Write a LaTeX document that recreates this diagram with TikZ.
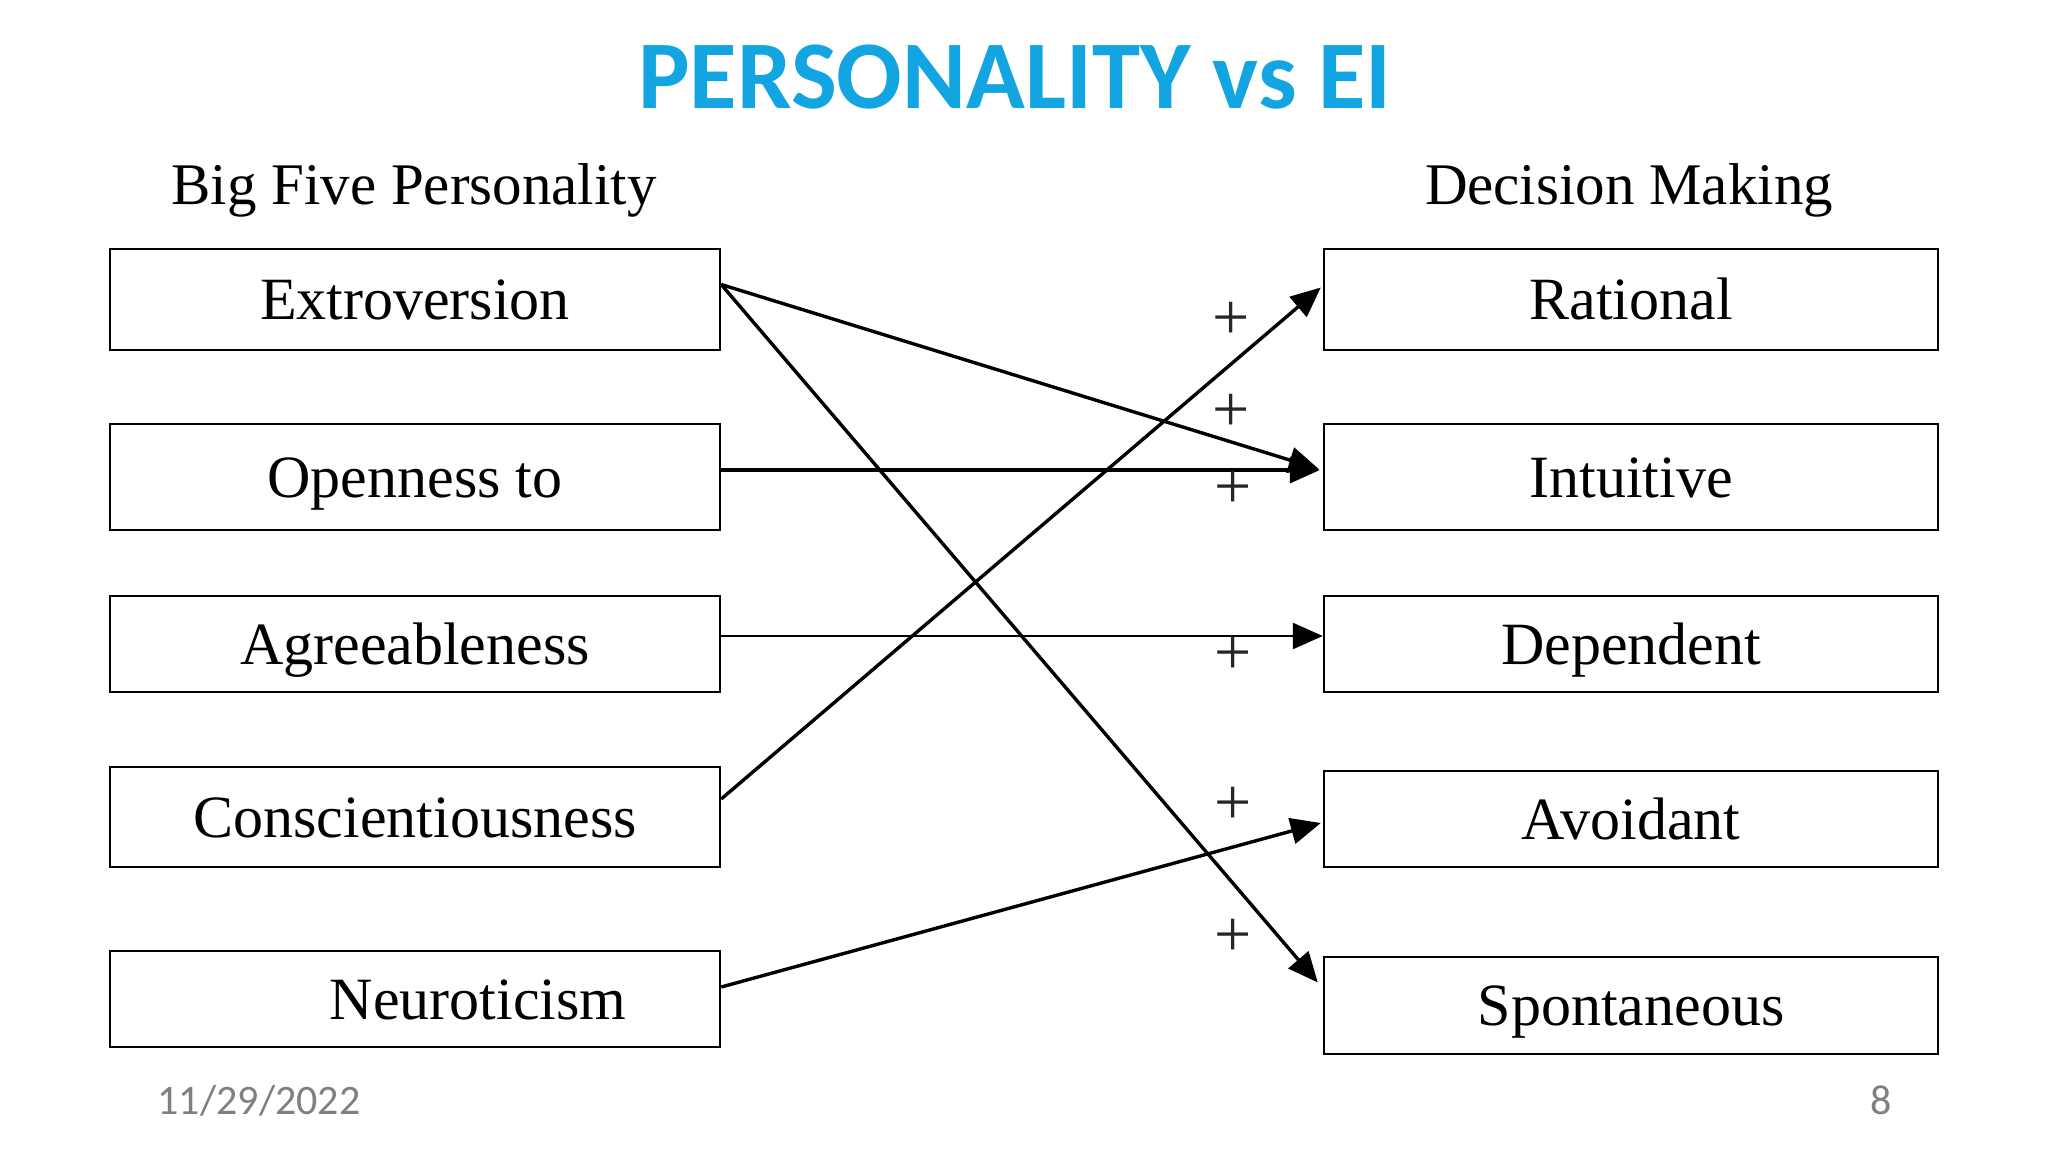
\documentclass[tikz,border=0pt]{standalone}
\usepackage{fontspec}
\setmainfont{Liberation Serif}
\newfontfamily\calibri{Carlito}
\usetikzlibrary{arrows.meta,calc}
\definecolor{titleblue}{RGB}{18,165,225}
\definecolor{footgray}{RGB}{128,128,128}
\begin{document}
\begin{tikzpicture}[x=1pt,y=-1pt,
  box/.style={draw, line width=2.4pt, inner sep=0pt, text height=40pt, text depth=0pt,
    font=\fontsize{60}{72}\selectfont},
  lbox/.style={box, minimum width=610pt},
  rbox/.style={box, minimum width=614pt},
  conn/.style={line width=3.4pt, -{Triangle[length=30pt,width=26pt]}},
  plus/.style={font=\fontsize{66}{70}\selectfont, inner sep=0pt, text=black!85},
  head/.style={font=\fontsize{59}{70}\selectfont, anchor=base, inner sep=0pt},
  foot/.style={font=\calibri\fontsize{42}{50}\selectfont, text=footgray, anchor=base, inner sep=0pt}
]
\useasboundingbox (0,0) rectangle (2048,1152);
\fill[white] (0,0) rectangle (2048,1152);

% title
\node[font=\calibri\bfseries\fontsize{97}{110}\selectfont, text=titleblue, anchor=base, inner sep=0pt]
  (title) at (1015,108) {PERSONALITY vs EI};

% headers
\node[head] (hleft) at (414,204) {Big Five Personality};
\node[head] (hright) at (1629,204) {Decision Making};

% left boxes
\node[lbox, minimum height=101pt] (ext) at (415,299.5) {Extroversion};
\node[lbox, minimum height=106pt] (ope) at (415,477) {Openness to};
\node[lbox, minimum height=96pt]  (agr) at (415,644) {Agreeableness};
\node[lbox, minimum height=100pt] (con) at (415,817) {Conscientiousness};
\node[lbox, minimum height=96pt]  (neu) at (415,999) {\hspace*{126pt}Neuroticism};

% right boxes
\node[rbox, minimum height=101pt] (rat) at (1631,299.5) {Rational};
\node[rbox, minimum height=106pt] (int) at (1631,477) {Intuitive};
\node[rbox, minimum height=96pt]  (dep) at (1631,644) {Dependent};
\node[rbox, minimum height=96pt]  (avo) at (1631,819) {Avoidant};
\node[rbox, minimum height=97pt]  (spo) at (1631,1005.5) {Spontaneous};

% connectors
\draw[conn] ([yshift=15pt]ext.east) -- ([yshift=8pt,xshift=-4pt]int.west);
\draw[conn] ([yshift=15pt]ext.east) -- ([yshift=23pt,xshift=-5pt]spo.west);
\draw[conn, line width=3.8pt] ([yshift=7pt]ope.east) -- ([yshift=7pt,xshift=-3pt]int.west);
\draw[conn, line width=2.6pt] ([yshift=8pt]agr.east) -- ([yshift=8pt]dep.west);
\draw[conn] ([yshift=18pt]con.east) -- ([yshift=12pt,xshift=-2pt]rat.west);
\draw[conn] ([yshift=12pt]neu.east) -- ([yshift=-4pt,xshift=-2pt]avo.west);

% plus signs
\node[plus] (p1) at (1231,321) {+};
\node[plus] (p2) at (1231,413) {+};
\node[plus] (p3) at (1233,490) {+};
\node[plus] (p4) at (1233,656) {+};
\node[plus] (p5) at (1233,806) {+};
\node[plus] (p6) at (1233,938) {+};

% footer
\node[foot] (date) at (259,1114) {11/29/2022};
\node[foot] (page) at (1881,1114) {8};
\end{tikzpicture}
\end{document}
